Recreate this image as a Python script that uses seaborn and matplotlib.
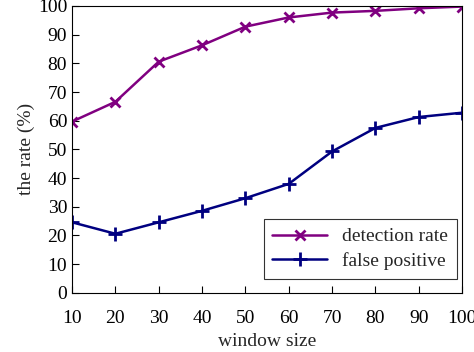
import matplotlib
matplotlib.use("Agg")
import matplotlib.pyplot as plt
import seaborn as sns
import pandas as pd

window_size = [10, 20, 30, 40, 50, 60, 70, 80, 90, 100]
detection_rate = [59.7, 66.6, 80.6, 86.3, 92.8, 96.0, 97.7, 98.3, 99.2, 99.8]
false_positive = [24.6, 20.6, 24.6, 28.6, 33.0, 38.0, 49.3, 57.5, 61.3, 62.8]

df = pd.DataFrame({"window": window_size,
                   "detection rate": detection_rate,
                   "false positive": false_positive})

sns.set_style("ticks")
plt.rcParams["font.family"] = ["Liberation Serif", "DejaVu Serif"]

fig = plt.figure(figsize=(4.74, 3.52), dpi=100)
ax = fig.add_axes([0.152, 0.168, 0.823, 0.815])

sns.lineplot(data=df, x="window", y="detection rate", color="#800080",
             marker="x", markersize=7, markeredgewidth=2,
             markeredgecolor="#800080", linewidth=1.8,
             label="detection rate", ax=ax)
sns.lineplot(data=df, x="window", y="false positive", color="#000080",
             marker="+", markersize=10, markeredgewidth=2,
             markeredgecolor="#000080", linewidth=1.8,
             label="false positive", ax=ax)

ax.set_xlim(10, 100)
ax.set_ylim(0, 100)
ax.set_xticks(window_size)
ax.set_yticks(range(0, 101, 10))
ax.tick_params(direction="in", length=5, labelsize=14, colors="black")
ax.tick_params(axis="x", pad=12)
for s in ax.spines.values():
    s.set_color("black")
    s.set_linewidth(0.8)

ax.set_xlabel("window size", fontsize=14, labelpad=5)
ax.set_ylabel("the rate (%)", fontsize=14, labelpad=2)

leg = ax.legend(loc="lower right", bbox_to_anchor=(0.987, 0.049), fontsize=14,
                frameon=True, fancybox=False, edgecolor="black",
                handlelength=2.8, borderpad=0.45, labelspacing=0.35,
                borderaxespad=0)
leg.get_frame().set_linewidth(0.8)

fig.savefig("out.png", dpi=100)
